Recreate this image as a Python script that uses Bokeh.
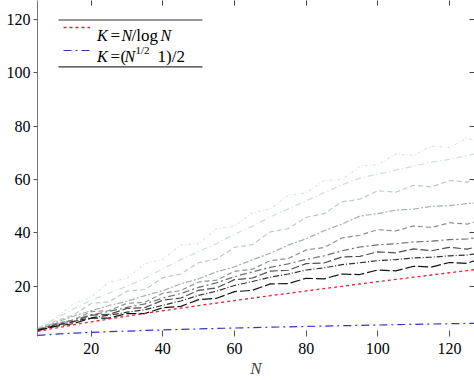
from bokeh.plotting import figure
from bokeh.models import (Range1d, LinearAxis, FixedTicker, Label, Legend,
                          LegendItem, BoxAnnotation)
from bokeh.embed import file_html
from bokeh.resources import INLINE

# ---------------- data ----------------
N = [5, 10, 15, 20, 25, 30, 35, 40, 45, 50, 55, 60, 65, 70, 75, 80, 85, 90,
     95, 100, 105, 110, 115, 120, 125, 127]

c1 = [4.4, 8.0, 13.5, 16.0, 21.5, 23.0, 28.5, 30.0, 35.5, 36.0, 41.5, 42.5, 47.5,
      49.0, 54.0, 55.0, 59.5, 60.0, 65.0, 65.5, 69.5, 69.0, 72.5, 72.0, 75.5, 74.5]
c2 = [4.2, 7.8, 11.5, 14.8, 17.5, 20.0, 23.0, 26.5, 30.0, 33.0, 36.0, 39.5, 42.5,
      46.0, 49.0, 52.0, 55.0, 58.0, 60.5, 62.0, 63.5, 65.0, 66.5, 67.5, 69.0, 69.5]
c3 = [4.0, 7.0, 9.2, 13.6, 14.2, 18.2, 18.8, 23.2, 24.6, 28.8, 30.2, 34.6, 35.6,
      40.4, 41.6, 45.8, 47.2, 51.6, 52.6, 55.8, 55.2, 57.8, 57.2, 59.6, 59.0, 60.0]
c4 = [3.9, 6.4, 8.8, 10.9, 12.8, 14.4, 16.5, 18.4, 20.9, 22.8, 25.4, 27.3, 29.9,
      32.4, 35.4, 37.8, 40.8, 43.3, 46.3, 47.2, 48.5, 48.9, 49.9, 50.2, 51.0, 51.2]
c5 = [3.8, 6.0, 7.4, 10.5, 10.9, 13.6, 14.0, 17.4, 18.4, 21.6, 22.3, 25.6, 26.4,
      29.6, 30.4, 33.6, 34.5, 38.1, 39.1, 41.2, 40.7, 42.6, 42.0, 43.8, 43.3, 44.1]
c6 = [3.7, 5.7, 7.4, 9.3, 10.6, 12.1, 13.4, 15.6, 17.3, 19.6, 21.3, 23.6, 25.4,
      27.1, 28.4, 30.1, 31.4, 33.3, 34.7, 35.5, 35.9, 36.6, 36.9, 37.5, 37.7, 38.1]
c7 = [3.6, 5.5, 6.7, 9.2, 9.5, 11.7, 12.0, 14.8, 15.6, 18.5, 19.4, 22.5, 23.1,
      25.7, 26.0, 28.5, 28.7, 31.0, 31.2, 32.9, 32.5, 34.0, 33.3, 34.6, 33.9, 34.6]
c8 = [3.5, 5.3, 6.8, 8.2, 9.2, 10.3, 11.2, 12.9, 14.5, 16.6, 18.2, 20.3, 21.8,
      23.4, 24.6, 26.1, 26.9, 28.1, 28.8, 29.6, 30.0, 30.6, 30.9, 31.4, 31.7, 32.1]
c9 = [3.4, 5.0, 6.0, 8.1, 8.1, 9.8, 9.8, 12.0, 12.5, 15.0, 15.5, 18.0, 18.5,
      20.9, 21.0, 23.0, 22.8, 24.6, 24.4, 26.1, 25.8, 27.5, 27.2, 28.9, 28.6, 29.6]

# K = N / log N
k_nlog = [3.11, 4.34, 5.54, 6.68, 7.77, 8.82, 9.84, 10.84, 11.82, 12.78, 13.72,
          14.65, 15.57, 16.48, 17.37, 18.26, 19.13, 20.00, 20.86, 21.71, 22.56,
          23.40, 24.23, 25.07, 25.89, 26.22]
# K = (N^1/2 + 1)/2
k_sqrt = [1.62, 2.08, 2.44, 2.74, 3.00, 3.24, 3.46, 3.66, 3.85, 4.04, 4.21, 4.37,
          4.53, 4.68, 4.83, 4.97, 5.11, 5.24, 5.37, 5.50, 5.62, 5.74, 5.86, 5.98,
          6.09, 6.13]

ticks = [20, 40, 60, 80, 100, 120]

# ---------------- layout ----------------
W, H = 474, 380
FL, FR, FT, FB = 37, 474, 0, 344
X0, X1 = 5, 127
Y0, Y1 = 1.2, 127

def dx(px):
    return X0 + (px - FL) * (X1 - X0) / (FR - FL)

def dy(py):
    return Y1 - (py - FT) * (Y1 - Y0) / (FB - FT)

SERIF = "'Liberation Serif', 'Times New Roman', serif"

p = figure(width=W, height=H, x_range=Range1d(X0, X1), y_range=Range1d(Y0, Y1),
           output_backend="svg", toolbar_location=None,
           min_border_left=FL, min_border_right=0, min_border_top=0,
           min_border_bottom=H - FB)
p.grid.visible = False
p.outline_line_color = None
p.background_fill_color = "white"

xa = p.xaxis[0]
xa.ticker = FixedTicker(ticks=ticks)
xa.major_tick_in = 6
xa.major_tick_out = 0
xa.minor_tick_line_color = None
xa.axis_line_color = None
xa.major_tick_line_color = "#555555"
xa.major_label_text_font = SERIF
xa.major_label_text_font_size = "16px"
xa.major_label_text_color = "black"
xa.major_label_standoff = 6
xa.axis_label = "N"
xa.axis_label_text_font = SERIF
xa.axis_label_text_font_style = "italic"
xa.axis_label_text_font_size = "17px"
xa.axis_label_standoff = 2

ya = p.yaxis[0]
ya.ticker = FixedTicker(ticks=ticks)
ya.major_tick_in = 0
ya.major_tick_out = 4
ya.minor_tick_line_color = None
ya.axis_line_color = "#777777"
ya.major_tick_line_color = "#555555"
ya.major_label_text_font = SERIF
ya.major_label_text_font_size = "16px"
ya.major_label_text_color = "black"
ya.major_label_standoff = 3

for side in ("right", "above"):
    ax = LinearAxis(ticker=FixedTicker(ticks=ticks), major_tick_in=5,
                    major_tick_out=0, minor_tick_line_color=None,
                    axis_line_color=None, major_tick_line_color="#444444",
                    major_label_text_font_size="0px", major_label_standoff=0)
    ax.major_label_overrides = {t: "" for t in ticks}
    p.add_layout(ax, side)

# ---------------- curves ----------------
series = [c1, c2, c3, c4, c5, c6, c7, c8, c9]
colors = ["#dde6e6", "#cfdbdb", "#bccaca", "#a4afaf", "#8a9292",
          "#6c7070", "#4e5050", "#303030", "#121212"]
dashes = ["3 2 1 2", "6 3 1 3", "5 3", "6 2 2 2", "5 3",
          "7 3 2 3", "8 3", "6 2 1 2", "10 3"]
for s, c, d in zip(series, colors, dashes):
    p.line(N, s, line_color=c, line_width=1.2, line_dash=d)

r_red = p.line(N, k_nlog, line_color="#f02030", line_width=1.3, line_dash="3 3")
r_blue = p.line(N, k_sqrt, line_color="#3434c8", line_width=1.2,
                line_dash="8 4 2 4")

# ---------------- legend ----------------
leg = Legend(items=[LegendItem(label=" ", renderers=[r_red]),
                    LegendItem(label=" ", renderers=[r_blue])],
             location=(63 - FL, FB - 65), orientation="vertical",
             glyph_width=27, glyph_height=14, label_height=14,
             label_width=1, label_standoff=0, spacing=9, padding=0, margin=0,
             border_line_color=None, background_fill_alpha=0,
             label_text_font_size="1px")
p.add_layout(leg, "center")

for ypx in (20, 68):
    p.add_layout(BoxAnnotation(left=dx(58), right=dx(202), top=dy(ypx - 0.6),
                               bottom=dy(ypx + 0.6), fill_color="#333333",
                               fill_alpha=1, line_color=None))

def lab(text, px, py, italic=False, size="17px"):
    p.add_layout(Label(x=dx(px), y=dy(py), text=text, text_font=SERIF,
                       text_font_size=size,
                       text_font_style="italic" if italic else "normal",
                       text_align="left", text_baseline="middle",
                       text_color="black"))

r1, r2 = 35.5, 57.5
lab("K", 96.5, r1, True, "16px")
lab("=", 110, r1)
lab("N", 121, r1, True, "16px")
lab("/log", 131, r1)
lab("N", 160, r1, True, "16px")

lab("K", 96.5, r2, True, "16px")
lab("=", 110, r2)
lab("(", 120, r2)
lab("N", 124, r2, True, "16px")
lab("1/2", 135, r2 - 6.5, False, "11px")
lab("1)/2", 157, r2)

lab("K", 0, 167, True, "18px")

out = file_html(p, INLINE)
open("out.html", "w").write(out)
